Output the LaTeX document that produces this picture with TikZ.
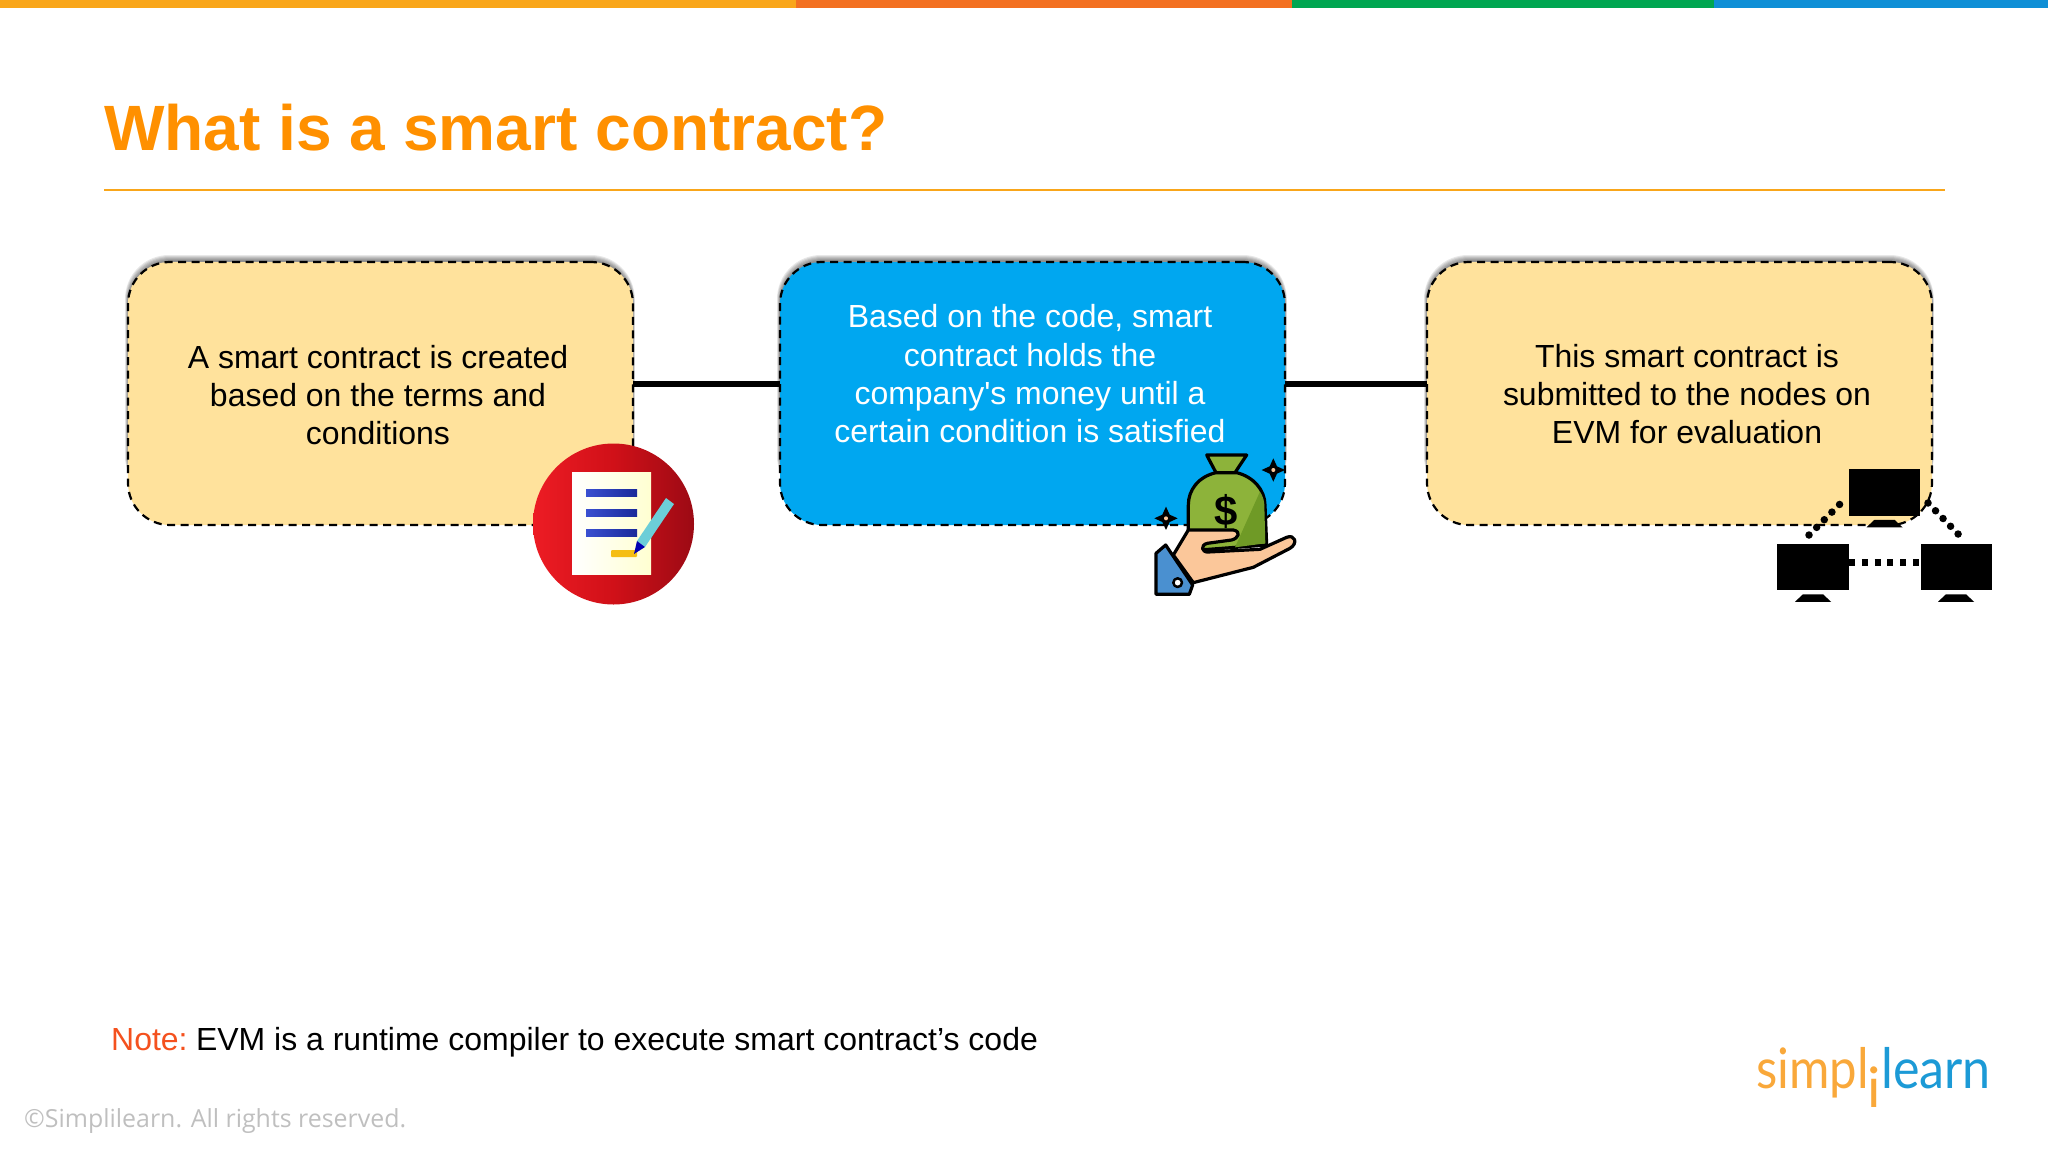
\documentclass[tikz,border=0pt]{standalone}
\usepackage{fontspec}
\setmainfont{Liberation Sans}[Ligatures=TeXOff]
\newfontfamily\logofont{Lato}
\newfontfamily\copyfont{Open Sans}
\usetikzlibrary{positioning,calc}
\definecolor{barYellow}{HTML}{F9A61A}
\definecolor{barOrange}{HTML}{F37021}
\definecolor{barGreen}{HTML}{00A651}
\definecolor{barBlue}{HTML}{0F8FD6}
\definecolor{titleOrange}{HTML}{FF9000}
\definecolor{boxYellow}{HTML}{FFE29C}
\definecolor{boxBlue}{HTML}{00A7F0}
\definecolor{noteRed}{HTML}{F4511E}
\definecolor{logoOrange}{HTML}{F9A83A}
\definecolor{logoBlue}{HTML}{1C9AD6}
\definecolor{bagGreen}{HTML}{8DB33A}
\definecolor{bagDark}{HTML}{6F9A26}
\definecolor{skinTone}{HTML}{FBC79A}
\definecolor{cuffBlue}{HTML}{4A90D0}
\tikzset{
  stepbox/.style={draw=black,line width=2.2bp,dash pattern=on 8bp off 5.5bp,rounded corners=42bp,
    minimum width=505bp,minimum height=263bp,inner sep=0pt,outer sep=0pt},
  boxtext/.style={align=center,font=\fontsize{32.1}{38.5}\selectfont,inner sep=0pt},
  joinline/.style={line width=6bp,black},
  monitor/.style={fill=black,inner sep=0pt,outer sep=0pt,minimum width=71bp,minimum height=46.5bp},
  roundlink/.style={line width=7.5bp,line cap=round,dash pattern=on 0bp off 10.8bp},
  squarelink/.style={line width=6.5bp,dash pattern=on 6bp off 6.8bp},
  sparkle/.style={fill=black},
}
\begin{document}
\begin{tikzpicture}[x=1bp,y=-1bp]
\useasboundingbox (0,0) rectangle (2048,1152);
%% top bar
\fill[barYellow] (0,0) rectangle (796,8);
\fill[barOrange] (796,0) rectangle (1292,8);
\fill[barGreen] (1292,0) rectangle (1714,8);
\fill[barBlue] (1714,0) rectangle (2048,8);
%% title
\node (title) at (104,150) [anchor=base west,inner sep=0pt,text=titleOrange,font=\fontsize{64.3}{72}\selectfont\bfseries] {What is a smart contract?};
\draw[barYellow,line width=1.5bp] (104,190) -- (1945,190);
%% soft shadow above the boxes
\foreach \cx in {380.5,1032.5,1679.5}
  \foreach \d in {1,2,3,4,5,6}
    \fill[black,opacity=0.09,rounded corners=44bp] (\cx-252.5-\d*0.5,261-\d) rectangle (\cx+252.5+\d*0.3,500);
%% boxes
\node (box_1) at (380.5,393.5) [stepbox,fill=boxYellow] {};
\node (box_2) at (1032.5,393.5) [stepbox,fill=boxBlue] {};
\node (box_3) at (1679.5,393.5) [stepbox,fill=boxYellow] {};
\draw[joinline] ([yshift=9.5bp]box_1.east) -- ([yshift=9.5bp]box_2.west);
\draw[joinline] ([yshift=9.5bp]box_2.east) -- ([yshift=9.5bp]box_3.west);
\node (text_1) at (378,395) [boxtext] {A smart contract is created\\based on the terms and\\conditions};
\node (text_2) at (1030,373.8) [boxtext,text=white] {Based on the code, smart\\contract holds the\\company's money until a\\certain condition is satisfied};
\node (text_3) at (1687,394) [boxtext] {This smart contract is\\submitted to the nodes on\\EVM for evaluation};
%% document icon
\definecolor{redA}{HTML}{ED1C24}
\definecolor{redB}{HTML}{D01018}
\definecolor{redC}{HTML}{9C0A14}
\definecolor{lineA}{HTML}{3A50D0}
\definecolor{lineB}{HTML}{1A2A9A}
\definecolor{markYellow}{HTML}{F5BE14}
\shade[left color=redA,right color=redC,middle color=redB] (613.5,524) circle (80.5);
\shade[left color=white,right color=yellow!18] (572,472) rectangle (651,574);
\foreach \ly in {489,509,529}
  \shade[left color=lineA,right color=lineB] (586,\ly) rectangle (637,\ly+7);
\fill[markYellow,rounded corners=1bp] (611,550) rectangle (637,557);
\fill[cyan!50!white!85!green] (637,541) -- (666,498) -- (674,504) -- (645,547) -- cycle;
\fill[blue!70!black] (634,554) -- (637,541) -- (645,547) -- cycle;
%% money icon
\begin{scope}[shift={(1120,430)},x=0.3333bp,y=-0.3333bp,line width=3.2bp,line join=round]
  \draw[fill=bagGreen] (260,75) -- (380,75) -- (345,128) -- (288,128) -- cycle;
  \draw[fill=bagGreen] (288,128) .. controls (235,140) and (205,180) .. (205,225)
     -- (205,300) -- (240,360) -- (440,345) -- (435,225)
     .. controls (435,180) and (400,140) .. (350,128) -- cycle;
  \fill[bagDark] (420,185) .. controls (430,200) and (433,215) .. (433,225) -- (436,340) -- (345,352) -- cycle;
  \node (dollar) at (318,245) [inner sep=0pt,font=\fontsize{42}{42}\selectfont\bfseries] {\$};
  \draw[fill=skinTone] (160,375) -- (205,300) -- (340,300) .. controls (365,305) and (355,325) .. (335,330)
     -- (262,340) .. controls (240,345) and (245,368) .. (265,366) -- (420,358) -- (500,322)
     .. controls (525,312) and (535,340) .. (510,355) -- (400,412) -- (220,458) -- cycle;
  \draw[fill=cuffBlue] (108,370) -- (137,345) -- (218,465) -- (208,493) -- (108,493) -- cycle;
  \draw[line width=2.5bp,fill=white] (173,458) circle (13);
  \foreach \sx/\sy in {460/120,138/265}{
    \fill[sparkle] (\sx,\sy-35) -- (\sx+11,\sy-11) -- (\sx+35,\sy) -- (\sx+11,\sy+11)
       -- (\sx,\sy+35) -- (\sx-11,\sy+11) -- (\sx-35,\sy) -- (\sx-11,\sy-11) -- cycle;
    \fill[skinTone] (\sx,\sy) circle (6);
  }
\end{scope}
%% network icon
\node (mon_top) at (1884.5,492.5) [monitor] {};
\node (mon_left) at (1813,567) [monitor,minimum width=72bp] {};
\node (mon_right) at (1956,567) [monitor] {};
\foreach \m in {mon_top,mon_left,mon_right}
  \fill (\m.south) ++(-10,4) -- ++(20,0) -- ++(8,7.5) -- ++(-36,0) -- cycle;
\coordinate (link_la) at (1809,535);
\coordinate (link_lb) at (1841,503);
\coordinate (link_ra) at (1928,503);
\coordinate (link_rb) at (1960,536);
\draw[roundlink] (link_la) -- (link_lb);
\draw[roundlink] (link_ra) -- (link_rb);
\draw[squarelink] ([yshift=4.3bp]mon_left.east) -- ([yshift=4.3bp]mon_right.west);
%% note
\node (note) at (111,1050) [anchor=base west,inner sep=0pt,font=\fontsize{32.1}{38}\selectfont] {\textcolor{noteRed}{Note:}\hspace{8.4bp}EVM is a runtime compiler to execute smart contract’s code};
%% logo
\node (logo_a) at (1869,1088) [anchor=base east,inner sep=0pt,xscale=0.88,transform shape,text=logoOrange,font=\fontsize{56}{56}\logofont] {simpl};
\node (logo_i) at (1874.5,1107) [anchor=base,inner sep=0pt,text=logoOrange,font=\fontsize{56}{56}\logofont] {i};
\node (logo_b) at (1881,1088) [anchor=base west,inner sep=0pt,xscale=0.9,transform shape,text=logoBlue,font=\fontsize{56}{56}\logofont] {learn};
\node (copyright) at (24,1127) [anchor=base west,inner sep=0pt,text=black!25,font=\fontsize{25}{30}\copyfont] {©Simplilearn. All rights reserved.};
\end{tikzpicture}
\end{document}
